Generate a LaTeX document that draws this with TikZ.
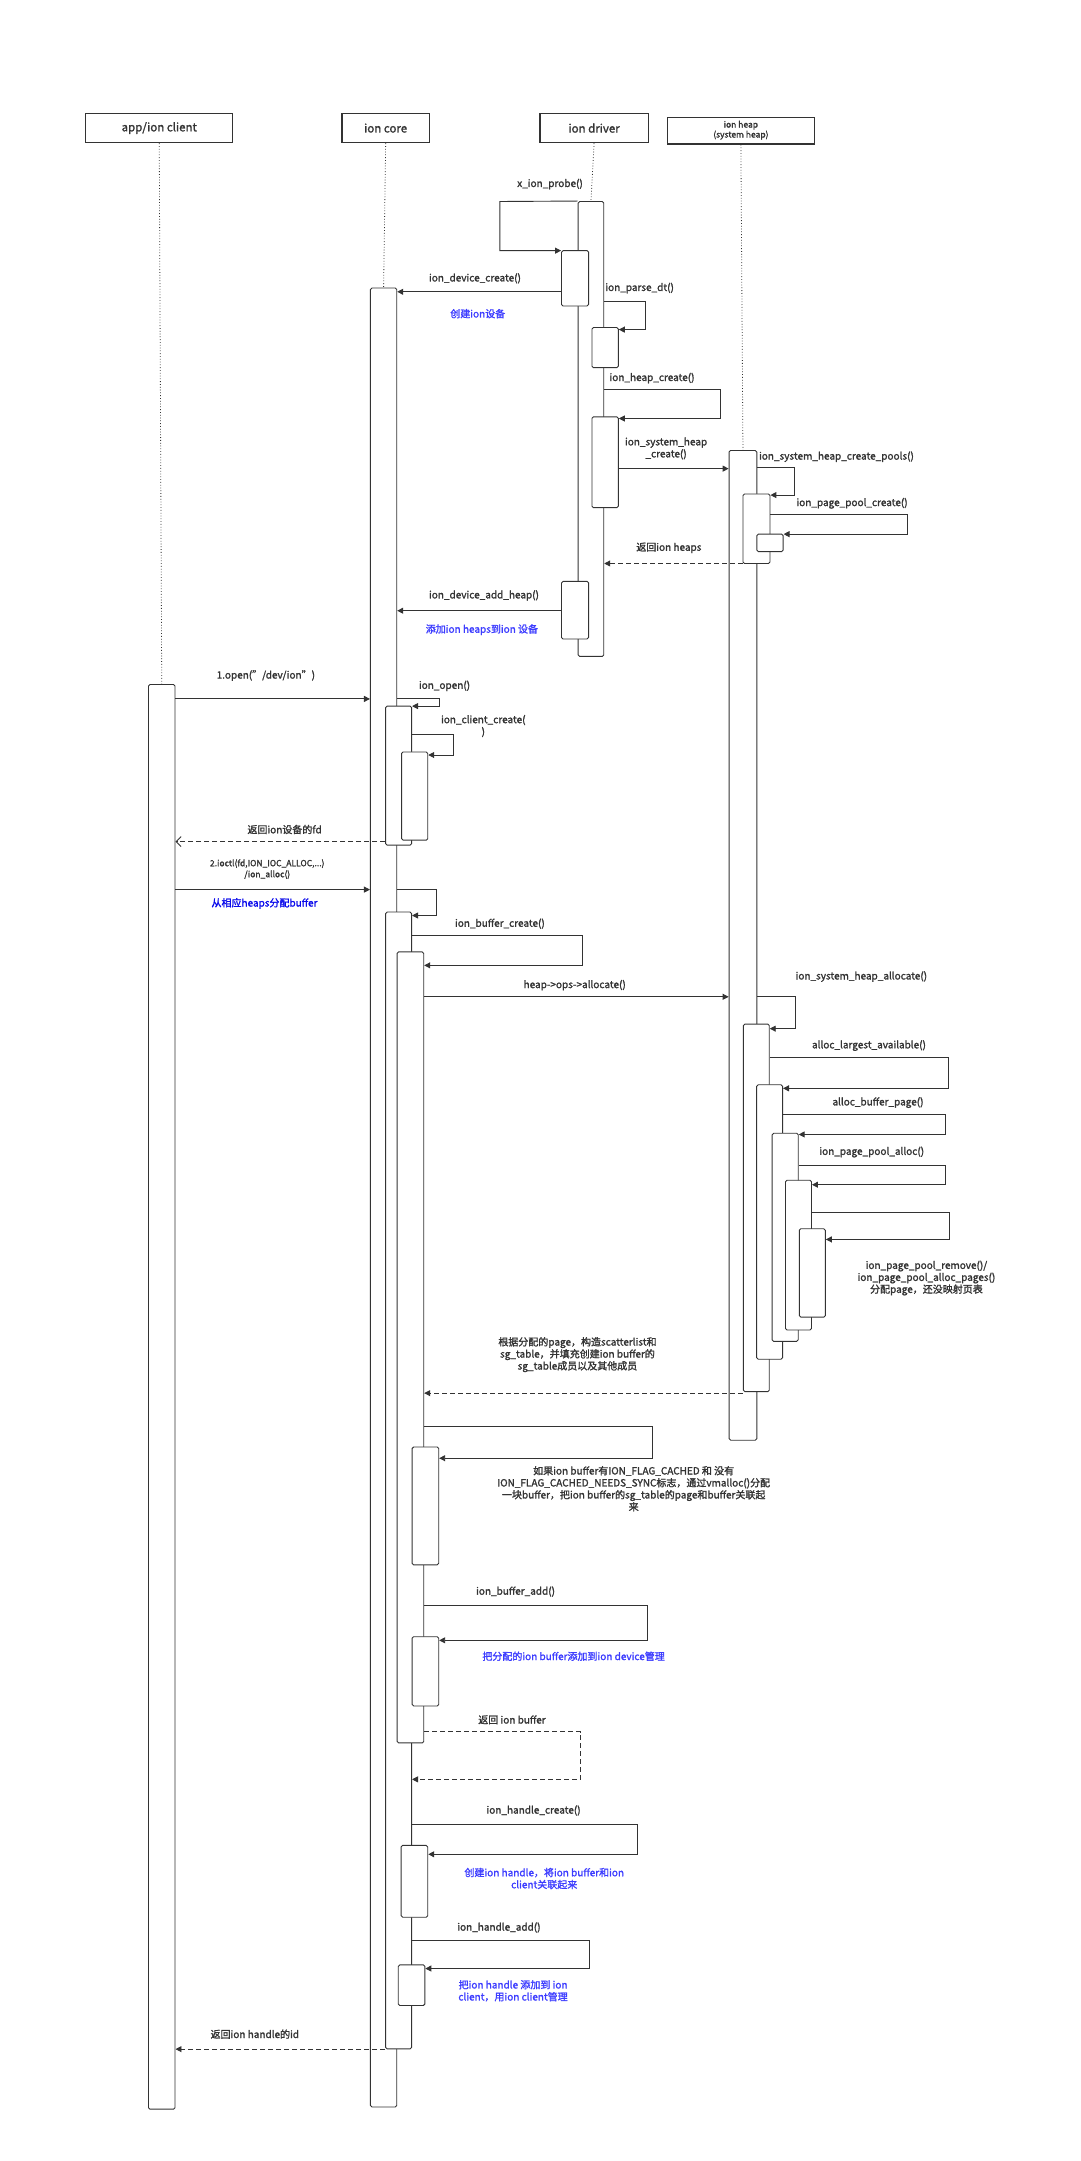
\documentclass[tikz,border=0pt]{standalone}
\usepackage{fontspec}
\setmainfont{Noto Sans CJK SC}[AutoFakeBold=1.6]
\usetikzlibrary{arrows.meta,fit}
\definecolor{cblue}{RGB}{60,60,255}
\definecolor{cdeep}{RGB}{10,10,235}
\definecolor{ink}{RGB}{51,51,51}
\begin{document}
\begin{tikzpicture}[x=1.385pt,y=-1.385pt,
  hdr/.style={draw=ink,line width=1.2pt,inner sep=0pt},
  act/.style={draw=ink,fill=white,rounded corners=1.5pt,line width=0.9pt,inner sep=0pt},
  life/.style={draw=ink,dotted,line width=0.8pt},
  msg/.style={draw=ink,line width=0.9pt,-{Triangle[length=6pt,width=6pt]}},
  ret/.style={msg,dashed,dash pattern=on 5pt off 3pt},
  oret/.style={draw=ink,line width=0.9pt,dashed,dash pattern=on 5pt off 3pt,-{Straight Barb[length=5pt,width=10pt]}},
  lb/.style={font=\fontsize{10}{12}\selectfont\bfseries,text=ink,inner sep=0pt,align=center},
  bl/.style={lb,text=cblue},
  bd/.style={lb,text=cdeep}]
\useasboundingbox (0,0) rectangle (780,1560.5);
% headers
\node[hdr,fit={(62,82)(168,103)},label={[lb,font=\fontsize{11.5}{13}\selectfont\bfseries]center:app/ion client}] (hA) {};
\node[hdr,fit={(247,82)(310,103)},label={[lb,font=\fontsize{11.5}{13}\selectfont\bfseries]center:ion core}] (hC) {};
\node[hdr,fit={(390,82)(468,103)},label={[lb,font=\fontsize{11.5}{13}\selectfont\bfseries]center:ion driver}] (hD) {};
\node[hdr,fit={(482,85)(588,104)}] (hH) {};
\node[lb,font=\fontsize{8.5}{10}\selectfont\bfseries] (hHt) at (535,94) {ion heap\\(system heap)};
% activations
\node[act,fit={(417.5,145.5)(436,474)}] (D0) {};
\node[act,fit={(405.5,181)(425,221)}] (D1) {};
\node[act,fit={(427.5,236.5)(446.5,265.5)}] (D2) {};
\node[act,fit={(427.5,301)(446.5,366.6)}] (D3) {};
\node[act,fit={(405.5,419.8)(425,461.4)}] (D4) {};
\node[act,fit={(267.5,208)(286.5,1521.5)}] (C0) {};
\node[act,fit={(526.5,325.3)(546.5,1040)}] (H0) {};
\node[act,fit={(536.5,356.7)(556,406.9)}] (H1) {};
\node[act,fit={(546.5,385.7)(565.5,398.3)}] (H2) {};
\node[act,fit={(107.2,494.3)(126.4,1523)}] (A0) {};
\node[act,fit={(278.5,509.9)(297.2,610.3)}] (C1) {};
\node[act,fit={(290,543)(308.9,606.7)}] (C2) {};
\node[act,fit={(278.5,658.6)(297.2,1479.5)}] (C3) {};
\node[act,fit={(286.8,687.4)(306,1258.6)}] (C4) {};
\node[act,fit={(536.8,739.5)(555.5,1004.9)}] (H3) {};
\node[act,fit={(546.4,783.3)(565.1,981.5)}] (H4) {};
\node[act,fit={(557.6,818.3)(576.4,968.6)}] (H5) {};
\node[act,fit={(567.2,852.3)(586,960.4)}] (H6) {};
\node[act,fit={(577.2,887.3)(596,951.1)}] (H7) {};
\node[act,fit={(297.6,1044.9)(316.8,1130)}] (C5) {};
\node[act,fit={(297.6,1181.9)(316.8,1231.9)}] (C6) {};
\node[act,fit={(289.7,1332.6)(308.9,1384.5)}] (C7) {};
\node[act,fit={(287.6,1418.9)(306.8,1448.2)}] (C8) {};
% lifelines
\draw[life] (hA.south) -- (A0.north);
\draw[life] (hC.south) -- (C0.north);
\draw[life] (hD.south) -- (D0.north);
\draw[life] (hH.south) -- (H0.north);
% driver probe section
\node[lb,anchor=east] (t1) at (421,132.9) {x\_ion\_probe()};
\draw[msg] (D0.north west) -- (361,145.5) |- (D1.north west |- 0,181);
\node[lb] (t2) at (343,201) {ion\_device\_create()};
\draw[msg] (D1.west |- 0,210.7) -- (C0.east |- 0,210.7);
\node[bl] (t3) at (345,226.5) {创建ion设备};
\node[lb,anchor=west] (t4) at (437,208) {ion\_parse\_dt()};
\draw[msg] (D0.east |- 0,217.7) -| (466,238) -- (D2.east |- 0,238);
\node[lb,anchor=west] (t5) at (440,273) {ion\_heap\_create()};
\draw[msg] (D0.east |- 0,281.5) -| (520,302.2) -- (D3.east |- 0,302.2);
\node[lb] (t6) at (481,323.8) {ion\_system\_heap\\\_create()};
\draw[msg] (D3.east |- 0,338.4) -- (H0.west |- 0,338.4);
\node[lb,anchor=west] (t7) at (548,329.8) {ion\_system\_heap\_create\_pools()};
\draw[msg] (H0.east |- 0,337.4) -| (573.5,357.5) -- (H1.east |- 0,357.5);
\node[lb,anchor=west] (t8) at (575,363.4) {ion\_page\_pool\_create()};
\draw[msg] (H1.east |- 0,371.4) -| (655,385.7) -- (H2.east |- 0,385.7);
\node[lb] (t9) at (483,395.6) {返回ion heaps};
\draw[ret] (H1.west |- 0,406.9) -- (D0.east |- 0,406.9);
\node[lb] (t10) at (349.5,430) {ion\_device\_add\_heap()};
\draw[msg] (D4.west |- 0,441) -- (C0.east |- 0,441);
\node[bl] (t11) at (348,454.7) {添加ion heaps到ion 设备};
% open
\node[lb] (t12) at (192,487.8) {1.open("/dev/ion")};
\draw[msg] (A0.east |- 0,504.7) -- (C0.west |- 0,504.7);
\node[lb] (t13) at (321,495.3) {ion\_open()};
\draw[msg] (C0.east |- 0,504.7) -| (317,509.9) -- (C1.east |- 0,509.9);
\node[lb] (t14) at (349,524.3) {ion\_client\_create(\\)};
\draw[msg] (C1.east |- 0,530) -| (327.6,545.2) -- (C2.east |- 0,545.2);
\node[lb] (t15) at (205.5,599) {返回ion设备的fd};
\draw[oret] (C1.west |- 0,607.7) -- (A0.east |- 0,607.7);
\node[lb,font=\fontsize{8.5}{11}\selectfont\bfseries] (t16) at (193,627.6) {2.ioctl(fd,ION\_IOC\_ALLOC,...)\\/ion\_alloc()};
\draw[msg] (A0.east |- 0,642.4) -- (C0.west |- 0,642.4);
\draw[msg] (C0.east |- 0,642.4) -| (315.5,661.1) -- (C3.east |- 0,661.1);
\node[bd] (t17) at (191,652.4) {从相应heaps分配buffer};
\node[lb] (t18) at (361,667) {ion\_buffer\_create()};
\draw[msg] (C3.east |- 0,675.4) -| (420.5,697.1) -- (C4.east |- 0,697.1);
\node[lb] (t19) at (415,711.4) {heap->ops->allocate()};
\draw[msg] (C4.east |- 0,719.8) -- (H0.west |- 0,719.8);
\node[lb] (t20) at (622,705.2) {ion\_system\_heap\_allocate()};
\draw[msg] (H0.east |- 0,719.8) -| (574.3,742.8) -- (H3.east |- 0,742.8);
\node[lb] (t21) at (627.5,755) {alloc\_largest\_available()};
\draw[msg] (H3.east |- 0,763.8) -| (684.7,785.9) -- (H4.east |- 0,785.9);
\node[lb] (t22) at (634,796.2) {alloc\_buffer\_page()};
\draw[msg] (H4.east |- 0,804.7) -| (682.6,819.2) -- (H5.east |- 0,819.2);
\node[lb] (t23) at (629.5,831.9) {ion\_page\_pool\_alloc()};
\draw[msg] (H5.east |- 0,841.6) -| (682.6,855.5) -- (H6.east |- 0,855.5);
\draw[msg] (H6.east |- 0,875.6) -| (685.5,895) -- (H7.east |- 0,895);
\node[lb] (t24) at (669,922.9) {ion\_page\_pool\_remove()/\\ion\_page\_pool\_alloc\_pages()\\分配page，还没映射页表};
\node[lb] (t25) at (417,978.2) {根据分配的page，构造scatterlist和\\sg\_table，并填充创建ion buffer的\\sg\_table成员以及其他成员};
\draw[ret] (H3.west |- 0,1006) -- (C4.east |- 0,1006);
\draw[msg] (C4.east |- 0,1030.4) -| (471.4,1053) -- (C5.east |- 0,1053);
\node[lb] (t26) at (457.6,1075) {如果ion buffer有ION\_FLAG\_CACHED 和 没有\\ION\_FLAG\_CACHED\_NEEDS\_SYNC标志，通过vmalloc()分配\\一块buffer，把ion buffer的sg\_table的page和buffer关联起\\来};
\node[lb] (t27) at (372.3,1149.3) {ion\_buffer\_add()};
\draw[msg] (C4.east |- 0,1159.3) -| (467.6,1184.5) -- (C6.east |- 0,1184.5);
\node[bl] (t28) at (414.2,1196) {把分配的ion buffer添加到ion device管理};
\node[lb] (t29) at (369.7,1241.9) {返回 ion buffer};
\draw[ret] (C4.east |- 0,1250.4) -| (419.3,1284.9) -- (C3.east |- 0,1284.9);
\node[lb] (t30) at (385.3,1307.4) {ion\_handle\_create()};
\draw[msg] (C3.east |- 0,1317.8) -| (460,1339) -- (C7.east |- 0,1339);
\node[bl] (t31) at (393,1356.5) {创建ion handle，将ion buffer和ion\\client关联起来};
\node[lb] (t32) at (360.3,1391.9) {ion\_handle\_add()};
\draw[msg] (C3.east |- 0,1401.1) -| (425.5,1421.5) -- (C8.east |- 0,1421.5);
\node[bl] (t33) at (370.5,1437.6) {把ion handle 添加到 ion\\client，用ion client管理};
\node[lb] (t34) at (184,1468.9) {返回ion handle的id};
\draw[ret] (C3.west |- 0,1479.7) -- (A0.east |- 0,1479.7);
\end{tikzpicture}
\end{document}
